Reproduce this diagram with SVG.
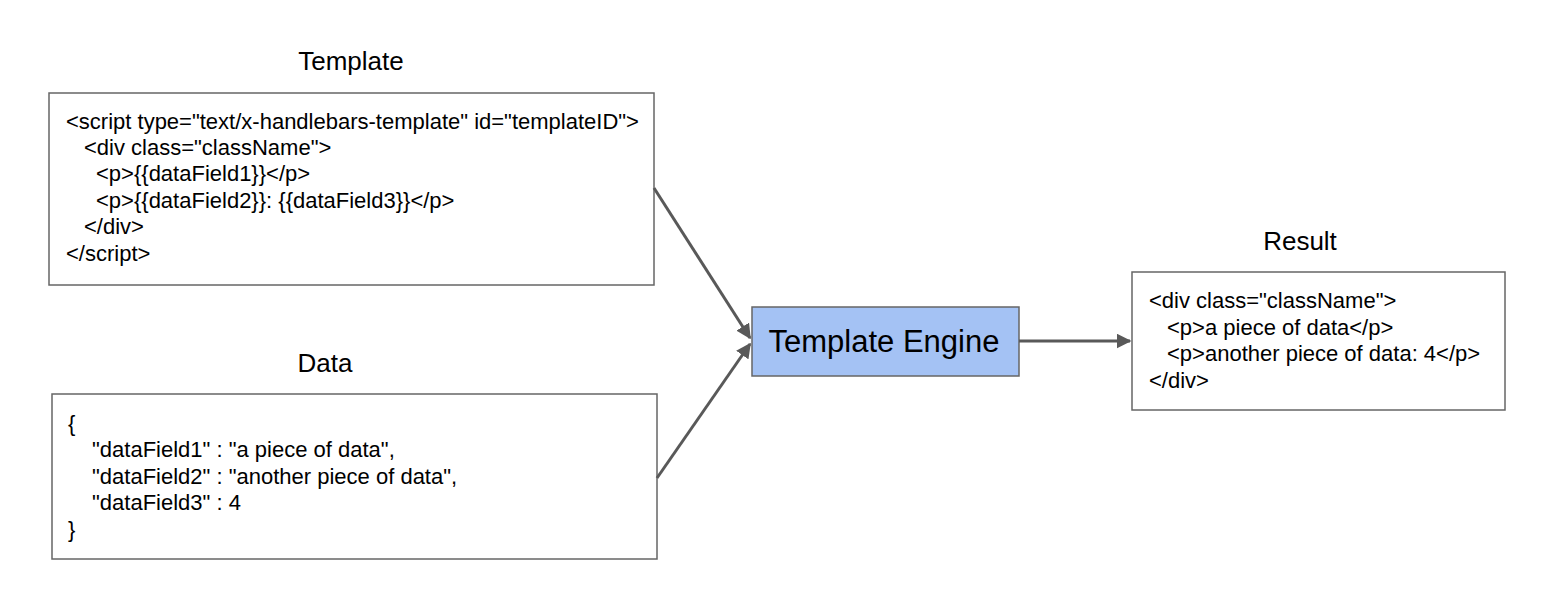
<svg xmlns="http://www.w3.org/2000/svg" width="1549" height="615" viewBox="0 0 1549 615">
<defs>
<style>
.box{fill:#ffffff;stroke:#666666;stroke-width:1.5}
.eng{fill:#a4c2f4;stroke:#666666;stroke-width:1.5}
.title{font-family:"Liberation Sans",Arial,sans-serif;font-size:26px;fill:#000;text-anchor:middle}
.code{font-family:"Liberation Sans",Arial,sans-serif;font-size:22px;fill:#000}
.big{font-family:"Liberation Sans",Arial,sans-serif;font-size:31px;fill:#000;text-anchor:middle}
.conn{stroke:#595959;stroke-width:3;fill:none}
</style>
<marker id="ah" viewBox="0 0 10 10" refX="9" refY="5" markerWidth="5" markerHeight="5" orient="auto" markerUnits="strokeWidth">
<path d="M0,0 L10,5 L0,10 Z" fill="#595959"/>
</marker>
</defs>
<rect width="1549" height="615" fill="#ffffff"/>
<g id="template">
<text class="title" x="351" y="70">Template</text>
<rect class="box" x="49" y="93" width="605" height="192"/>
<text class="code" x="66" y="129">&lt;script type="text/x-handlebars-template" id="templateID"&gt;</text>
<text class="code" x="84" y="155">&lt;div class="className"&gt;</text>
<text class="code" x="96" y="181">&lt;p&gt;{{dataField1}}&lt;/p&gt;</text>
<text class="code" x="96" y="208">&lt;p&gt;{{dataField2}}: {{dataField3}}&lt;/p&gt;</text>
<text class="code" x="84" y="234">&lt;/div&gt;</text>
<text class="code" x="66" y="261">&lt;/script&gt;</text>
</g>
<g id="data">
<text class="title" x="325" y="372">Data</text>
<rect class="box" x="52" y="394" width="605" height="165"/>
<text class="code" x="68" y="431">{</text>
<text class="code" x="92" y="457">"dataField1" : "a piece of data",</text>
<text class="code" x="92" y="484">"dataField2" : "another piece of data",</text>
<text class="code" x="92" y="510">"dataField3" : 4</text>
<text class="code" x="68" y="537">}</text>
</g>
<g id="engine">
<rect class="eng" x="752" y="307" width="267" height="69"/>
<text class="big" x="884" y="352">Template Engine</text>
</g>
<g id="result">
<text class="title" x="1300" y="250">Result</text>
<rect class="box" x="1132" y="272" width="373" height="138"/>
<text class="code" x="1149" y="308">&lt;div class="className"&gt;</text>
<text class="code" x="1167" y="335">&lt;p&gt;a piece of data&lt;/p&gt;</text>
<text class="code" x="1167" y="361">&lt;p&gt;another piece of data: 4&lt;/p&gt;</text>
<text class="code" x="1149" y="388">&lt;/div&gt;</text>
</g>
<g id="connectors">
<line class="conn" x1="654" y1="188" x2="750" y2="338" marker-end="url(#ah)"/>
<line class="conn" x1="657" y1="478" x2="750" y2="344" marker-end="url(#ah)"/>
<line class="conn" x1="1019" y1="341" x2="1130" y2="341" marker-end="url(#ah)"/>
</g>
</svg>
